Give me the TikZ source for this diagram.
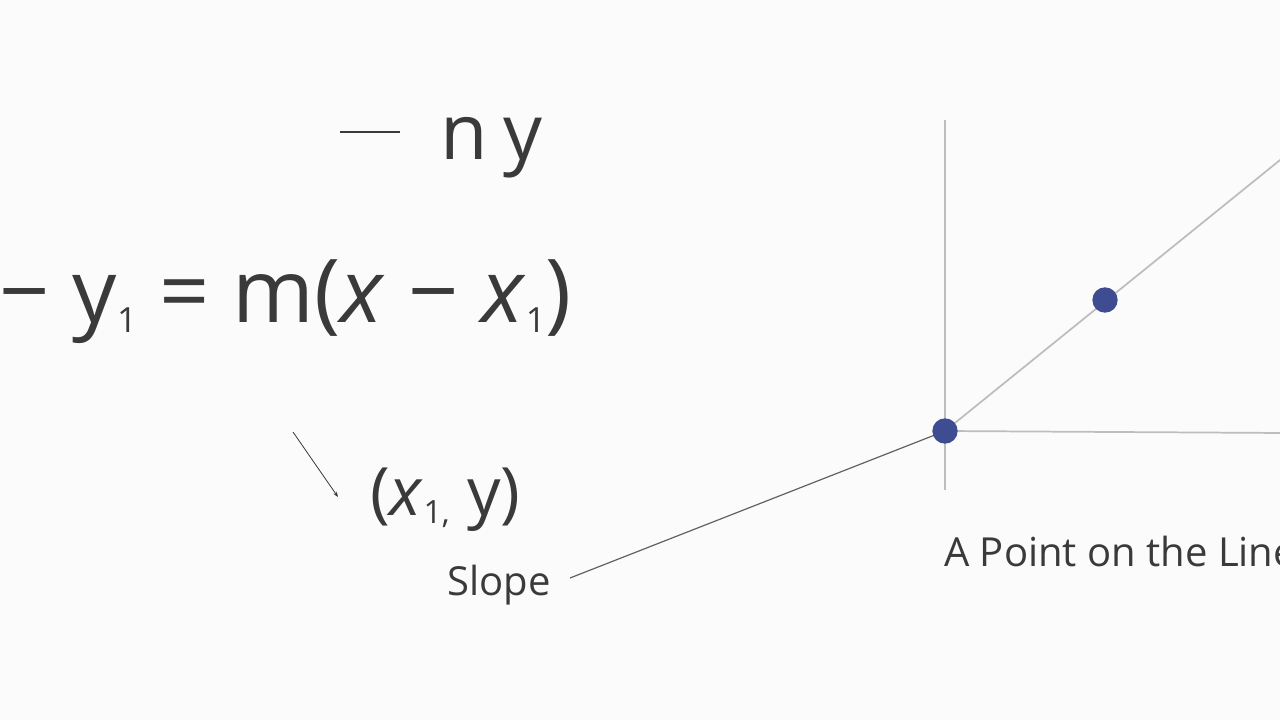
\documentclass[tikz,border=0pt]{standalone}
\usepackage{fontspec}
\setmainfont{Open Sans}
\usetikzlibrary{arrows.meta}
\definecolor{ink}{HTML}{3A3A3A}
\definecolor{dot}{HTML}{3E4C92}
\definecolor{axis}{HTML}{BDBDBD}
\begin{document}
\begin{tikzpicture}[x=0.75pt,y=-0.75pt,
  txt/.style={text=ink,inner sep=0pt},
  ptdot/.style={circle,fill=dot,minimum size=19pt,inner sep=0pt}]
\fill[white!97!gray] (0,0) rectangle (1280,720);
\clip (0,0) rectangle (1280,720);
% top line
\draw[ink,line width=1.2pt] (340,132) -- (400,132);
\node[txt,anchor=base west,font=\fontsize{58}{60}\selectfont] (ny) at (440,160) {n\hspace{12pt}y};
% equation
\node[txt,anchor=base east,font=\fontsize{66}{70}\selectfont] (eq) at (572,322)
  {− y\raisebox{-8pt}{\fontsize{26}{28}\selectfont 1} = m(\textit{x} − \textit{x}\raisebox{-8pt}{\fontsize{26}{28}\selectfont 1})};
% point
\node[txt,anchor=base west,font=\fontsize{50}{54}\selectfont] (pt) at (370,515)
  {(\textit{x}\raisebox{-6pt}{\fontsize{24}{26}\selectfont 1,} y)};
\coordinate (s1) at (293,432);
\coordinate (s2) at (338,497);
\draw[ink,line width=0.6pt,-{Stealth[length=4pt]}] (s1) -- (s2);
% slope
\node[txt,anchor=base west,font=\fontsize{30}{32}\selectfont] (slope) at (447,595) {Slope};
% axes
\coordinate (o) at (945,431);
\coordinate (vt) at (945,120);
\coordinate (vb) at (945,490);
\coordinate (hr) at (1285,433);
\coordinate (lt) at (1285,156);
\coordinate (se) at (570,578);
\draw[axis,line width=1.3pt] (vt) -- (vb);
\draw[axis,line width=1.3pt] (o) -- (hr);
\draw[axis,line width=1.3pt] (o) -- (lt);
\draw[ink!80,line width=0.9pt,-{Stealth[length=7pt]}] (se) -- (o);
\node[ptdot] (p0) at (o) {};
\node[ptdot] (p1) at (1105,300) {};
\node[txt,anchor=base west,font=\fontsize{30}{32}\selectfont] (lbl) at (944,566) {A Point on the Line};
\end{tikzpicture}
\end{document}
